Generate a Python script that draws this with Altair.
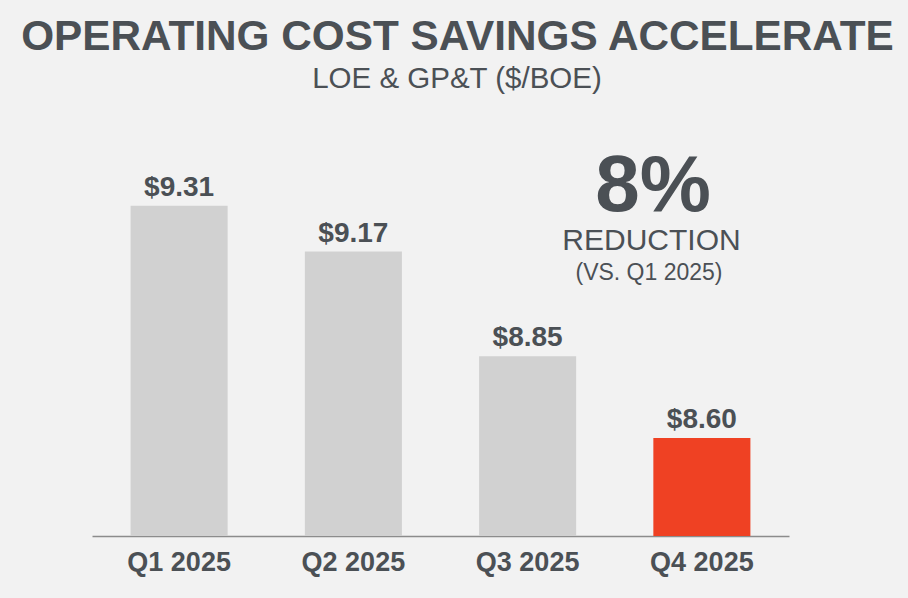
import altair as alt
import pandas as pd

# Quarterly LOE & GP&T cost, $/BOE
quarters = ["Q1 2025", "Q2 2025", "Q3 2025", "Q4 2025"]
cost_per_boe = [9.31, 9.17, 8.85, 8.60]
bar_colors = ["#d1d1d1", "#d1d1d1", "#d1d1d1", "#ef4123"]

title_text = ["OPERATING COST SAVINGS ACCELERATE"]
subtitle_text = ["LOE & GP&T ($/BOE)"]
callout_pct = ["8%"]
callout_word = ["REDUCTION"]
callout_note = ["(VS. Q1 2025)"]

TXT = "#4b5055"
FONT = "Liberation Sans"

df = pd.DataFrame({"quarter": quarters, "cost": cost_per_boe, "color": bar_colors})

x_enc = alt.X(
    "quarter:N",
    sort=quarters,
    scale=alt.Scale(paddingInner=0.443, paddingOuter=0.2215),
    axis=alt.Axis(
        title=None,
        labelAngle=0,
        labelFont=FONT,
        labelFontSize=27,
        labelFontWeight="bold",
        labelColor=TXT,
        labelBaseline="alphabetic",
        labelPadding=34,
        ticks=False,
        tickSize=0,
        grid=False,
        domainColor="#8c8c8c",
        domainWidth=1.5,
    ),
)
y_enc = alt.Y(
    "cost:Q",
    scale=alt.Scale(domain=[8.3, 9.6], zero=False, nice=False),
    axis=None,
)

base = alt.Chart(df)

bars = base.mark_bar().encode(
    x=x_enc,
    y=y_enc,
    y2=alt.datum(8.3),
    color=alt.Color("color:N", scale=None),
)

values = base.mark_text(
    dy=-10, baseline="alphabetic", font=FONT, fontSize=28, fontWeight="bold", color=TXT
).encode(
    x=x_enc,
    y=y_enc,
    text=alt.Text("cost:Q", format="$.2f"),
)


def note(lines, px, py, size, weight="normal"):
    return alt.Chart(pd.DataFrame({"t": lines})).mark_text(
        font=FONT, fontSize=size, fontWeight=weight, color=TXT,
        align="center", baseline="alphabetic",
    ).encode(text="t:N", x=alt.value(px), y=alt.value(py))


title = note(title_text, 365.5, -61, 42.3, "bold")
subtitle = note(subtitle_text, 365, -23, 29.5)
pct = note(callout_pct, 561, 100, 80, "bold")
word = note(callout_word, 559.5, 139, 30)
vs = note(callout_note, 557, 169, 23)

chart = (
    alt.layer(bars, values, title, subtitle, pct, word, vs)
    .properties(
        width=697,
        height=425,
        padding={"left": 92, "right": 119, "top": 111, "bottom": 62},
        autosize=alt.AutoSizeParams(type="none"),
        background="#f2f2f2",
    )
    .configure_view(stroke=None)
)

chart.save("out.html", embed_options={"renderer": "svg", "actions": False})
